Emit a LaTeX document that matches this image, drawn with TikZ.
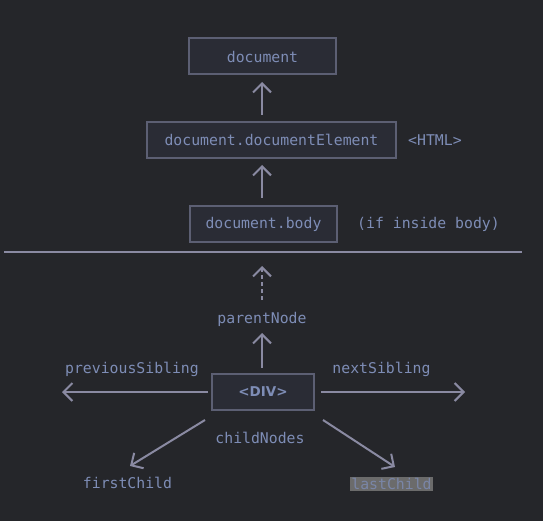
\documentclass[tikz,border=0pt]{standalone}
\usepackage{fontspec}
\setmonofont{DejaVu Sans Mono}
\newfontfamily\divfont{DejaVu Sans}
\usetikzlibrary{arrows.meta}
\definecolor{bg}{HTML}{25262A}
\definecolor{boxfill}{HTML}{2A2C35}
\definecolor{boxline}{HTML}{5C5F73}
\definecolor{txt}{HTML}{7E8DB6}
\definecolor{arr}{HTML}{8A8AA2}
\definecolor{hl}{HTML}{6B6B6B}
\begin{document}
\begin{tikzpicture}[x=1pt,y=-1pt,
  box/.style={draw=boxline,fill=boxfill,line width=2pt,minimum height=36pt,inner sep=0pt,font=\ttfamily\fontsize{14.8}{16}\selectfont,text=txt},
  lbl/.style={font=\ttfamily\fontsize{14.8}{16}\selectfont,text=txt,inner sep=0pt},
  conn/.style={draw=arr,line width=2pt,-{Straight Barb[length=9pt,width=18pt,line width=2pt]}}]
\useasboundingbox[fill=bg] (0,0) rectangle (543,521);
\node[box,minimum width=147pt] (doc) at (262.5,56.5) {document};
\node[box,minimum width=249pt] (de) at (271.5,140) {document.documentElement};
\node[lbl,anchor=west] (html) at (408,140) {<HTML>};
\node[box,minimum width=147pt] (body) at (263.5,224) {document.body};
\node[lbl,anchor=west] (ifin) at (357,224) {(if inside body)};
\coordinate (hl1) at (4,252);
\coordinate (hl2) at (522,252);
\draw[draw=arr,line width=2pt] (hl1) -- (hl2);
\coordinate (a1s) at (262,115); \coordinate (a1e) at (262,82);
\draw[conn] (a1s) -- (a1e);
\coordinate (a2s) at (262,198); \coordinate (a2e) at (262,165);
\draw[conn] (a2s) -- (a2e);
\coordinate (pds) at (262,300); \coordinate (pde) at (262,266);
\draw[conn,line width=2.2pt,dash pattern=on 4pt off 3pt] (pds) -- (pde);
\node[lbl] (pn) at (262,319) {parentNode};
\node[box,minimum width=102pt,font=\divfont\bfseries\fontsize{13.5}{15}\selectfont] (div) at (263,392) {<DIV>};
\coordinate (pns) at (262,368); \coordinate (pne) at (262,333);
\draw[conn] (pns) -- (pne);
\node[lbl] (prev) at (132,369) {previousSibling};
\node[lbl] (next) at (381.5,369) {nextSibling};
\coordinate (prevE) at (62,392);
\coordinate (nextE) at (465,392);
\draw[conn] ([xshift=-3pt]div.west) -- (prevE);
\draw[conn] ([xshift=6pt]div.east) -- (nextE);
\node[lbl] (cn) at (260,438) {childNodes};
\node[lbl] (fc) at (127.5,483) {firstChild};
\node[lbl,fill=hl,inner sep=1pt,text=txt!80!hl] (lc) at (391.5,484) {lastChild};
\coordinate (fcs) at (205,420); \coordinate (fce) at (130,466);
\coordinate (lcs) at (323,420); \coordinate (lce) at (395,467);
\draw[conn] (fcs) -- (fce);
\draw[conn] (lcs) -- (lce);
\end{tikzpicture}
\end{document}
